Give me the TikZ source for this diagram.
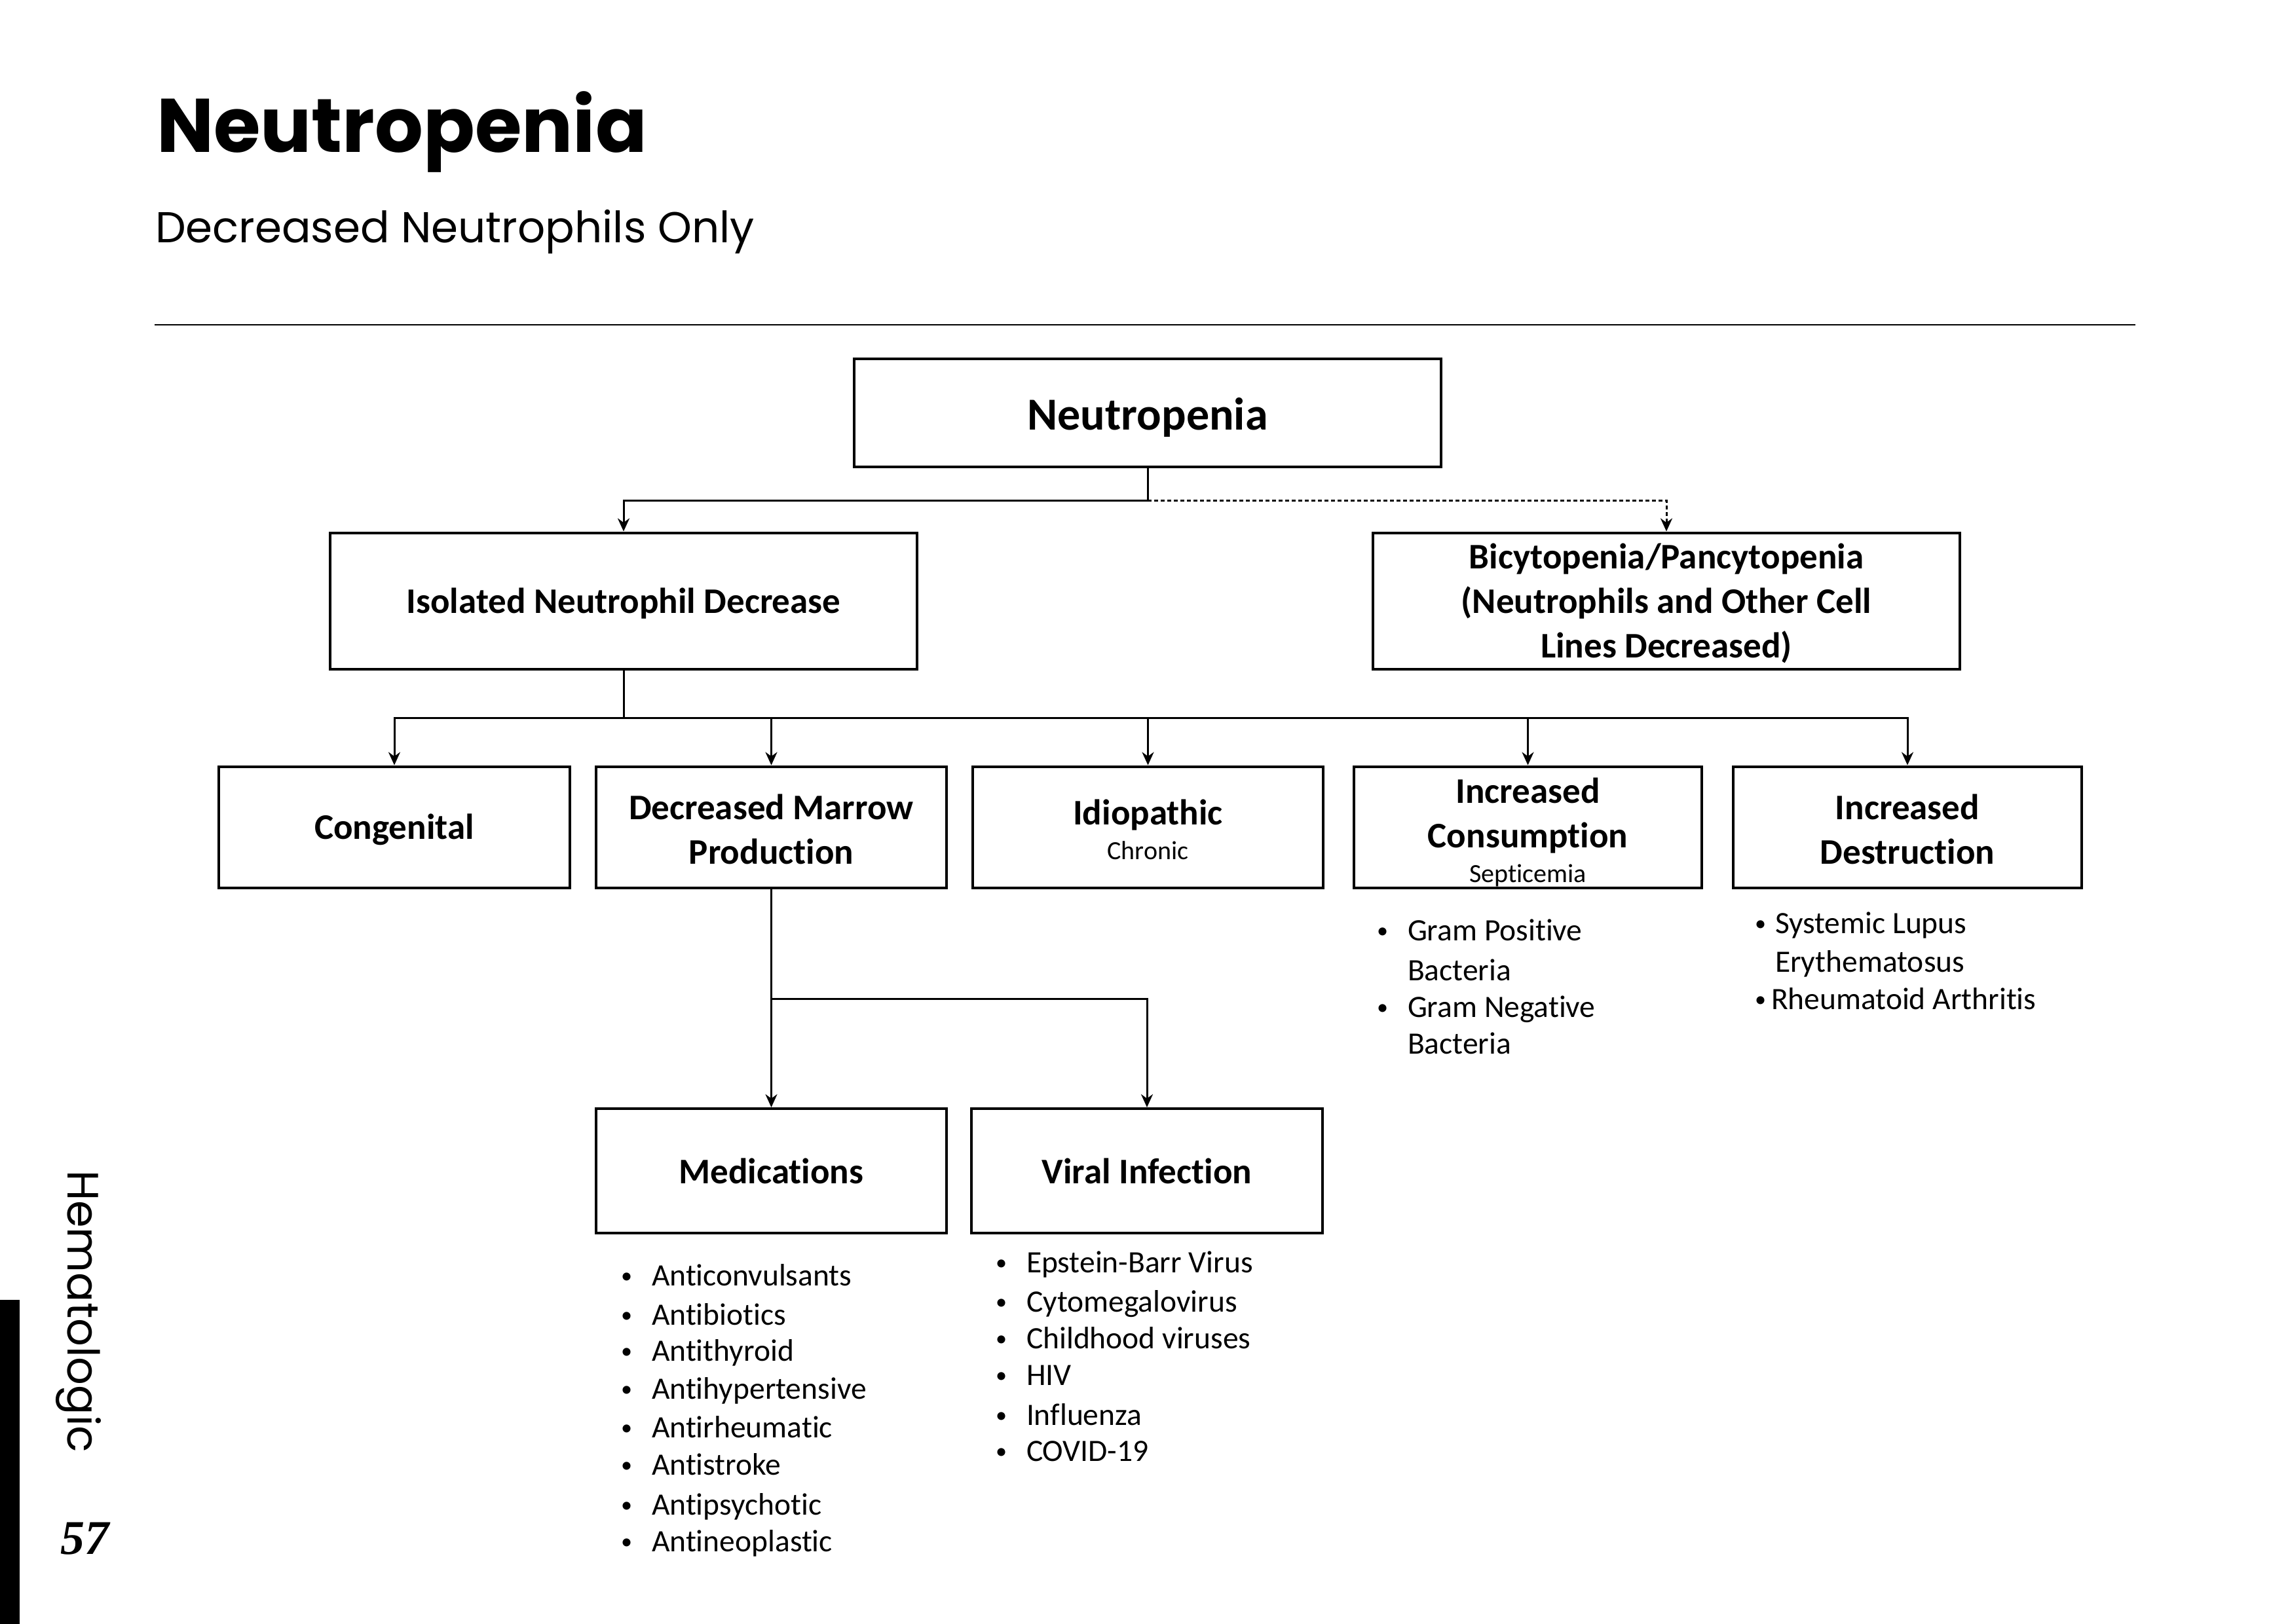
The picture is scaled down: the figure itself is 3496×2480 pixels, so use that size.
\documentclass[tikz,border=0pt]{standalone}
\usepackage{fontspec}
\usepackage{graphicx}
\setmainfont{Carlito}[Ligatures=NoCommon]
\newfontfamily\poppins{Poppins}
\newfontfamily\timesfont{Liberation Serif}
\usetikzlibrary{arrows.meta}
\tikzset{
  box/.style={draw, line width=0.8pt, inner sep=0pt},
  boxtext/.style={align=center, inner sep=0pt, yshift=-0.8pt,
    font=\bfseries\fontsize{11}{13.6}\selectfont},
  line/.style={line width=0.6pt},
  arr/.style={line width=0.6pt, -{Stealth[length=4pt,width=3.6pt]}},
  dash line/.style={dash pattern=on 1.2pt off 0.8pt},
  bul/.style={anchor=base west, inner sep=0pt, font=\fontsize{9.5}{11.4}\selectfont}
}
\newcommand{\bdot}[1][9.4pt]{\makebox[#1][l]{\raisebox{0.08em}{\scalebox{0.72}{•}}}}
\newcommand{\smalltxt}[1]{{\mdseries\fontsize{8}{9.6}\selectfont #1}}
\begin{document}
\begin{tikzpicture}[x=0.2pt,y=-0.2pt]
\useasboundingbox (0,0) rectangle (3496,2480);
% header
\node[anchor=base west, inner sep=0pt, font=\poppins\bfseries\fontsize{23.2}{28}\selectfont] (title) at (238,232) {Neutropenia};
\node[anchor=base west, inner sep=0pt, font=\poppins\fontsize{13.2}{16}\selectfont] (subtitle) at (236,370) {Decreased Neutrophils Only};
\draw[line width=0.5pt] (236,496) -- (3260,496);
% side tab
\fill (0,1985) rectangle (30,2480);
\node[anchor=base west, inner sep=0pt, rotate=-90, font=\poppins\fontsize{13.4}{16}\selectfont] (tab) at (103,1786) {Hematologic};
\node[anchor=base west, inner sep=0pt, font=\timesfont\bfseries\itshape\fontsize{14.8}{17}\selectfont] (page) at (92,2373) {57};
% boxes
\node[box, minimum width=179.2pt, minimum height=33pt,
  label={[boxtext, yshift=-0.5pt, font=\bfseries\fontsize{14}{17}\selectfont]center:{Neutropenia}}] (top) at (1752,630.5) {};
\node[box, minimum width=179.2pt, minimum height=41.6pt,
  label={[boxtext]center:{Isolated Neutrophil Decrease}}] (iso) at (952,917.5) {};
\node[box, minimum width=179.2pt, minimum height=41.6pt,
  label={[boxtext]center:{Bicytopenia/Pancytopenia\\(Neutrophils and Other Cell\\Lines Decreased)}}] (bic) at (2544,917.5) {};
\node[box, minimum width=107.2pt, minimum height=37pt,
  label={[boxtext]center:{Congenital}}] (con) at (602,1263) {};
\node[box, minimum width=107pt, minimum height=37pt,
  label={[boxtext, yshift=0.1pt]center:{Decreased Marrow\\Production}}] (dmp) at (1177.5,1263) {};
\node[box, minimum width=107pt, minimum height=37pt,
  label={[boxtext, yshift=0.1pt]center:{Idiopathic\\[-3pt]\smalltxt{Chronic}}}] (idi) at (1752.5,1263) {};
\node[box, minimum width=106.2pt, minimum height=37pt,
  label={[boxtext, yshift=-0.8pt]center:{Increased\\Consumption\\[-3pt]\smalltxt{Septicemia}}}] (ic) at (2332.5,1263) {};
\node[box, minimum width=106.4pt, minimum height=37pt,
  label={[boxtext, yshift=0.1pt]center:{Increased\\Destruction}}] (id) at (2912,1263) {};
\node[box, minimum width=107pt, minimum height=38pt,
  label={[boxtext, yshift=0.8pt]center:{Medications}}] (med) at (1177.5,1788) {};
\node[box, minimum width=107.2pt, minimum height=38pt,
  label={[boxtext, yshift=0.8pt]center:{Viral Infection}}] (vir) at (1751,1788) {};
% connectors
\coordinate (j1) at (1752,764);
\draw[line] (top.south) -- (j1);
\draw[arr] (j1) -| (iso.north);
\draw[arr, dash line] (j1) -| (bic.north);
\coordinate (j2) at (952,1096);
\draw[line] (iso.south) -- (j2);
\foreach \n in {con,dmp,idi,ic,id} \draw[arr] (j2) -| (\n.north);
\coordinate (j3) at (1177.5,1525);
\draw[line] (dmp.south) -- (j3);
\draw[arr] (j3) -- (med.north);
\draw[arr] (j3) -| (vir.north);
% bullet lists
\foreach \t/\y [count=\i] in {Anticonvulsants/1963, Antibiotics/2023, Antithyroid/2078, Antihypertensive/2136, Antirheumatic/2195, Antistroke/2252, Antipsychotic/2313, Antineoplastic/2369}
  \node[bul] (med\i) at (947,\y) {\bdot\t};
\foreach \t/\y [count=\i] in {Epstein-Barr Virus/1943, Cytomegalovirus/2003, Childhood viruses/2059, HIV/2115, Influenza/2176, COVID-19/2231}
  \node[bul] (vir\i) at (1519,\y) {\bdot\t};
\node[bul] (ic1) at (2101,1436) {\bdot Gram Positive};
\node[bul] (ic2) at (2148,1497) {Bacteria};
\node[bul] (ic3) at (2101,1553) {\bdot Gram Negative};
\node[bul] (ic4) at (2148,1609) {Bacteria};
\node[bul] (id1) at (2678,1425) {\bdot[6.2pt]Systemic Lupus};
\node[bul] (id2) at (2709,1484) {Erythematosus};
\node[bul] (id3) at (2678,1541) {\bdot[5pt]Rheumatoid Arthritis};
\end{tikzpicture}
\end{document}
